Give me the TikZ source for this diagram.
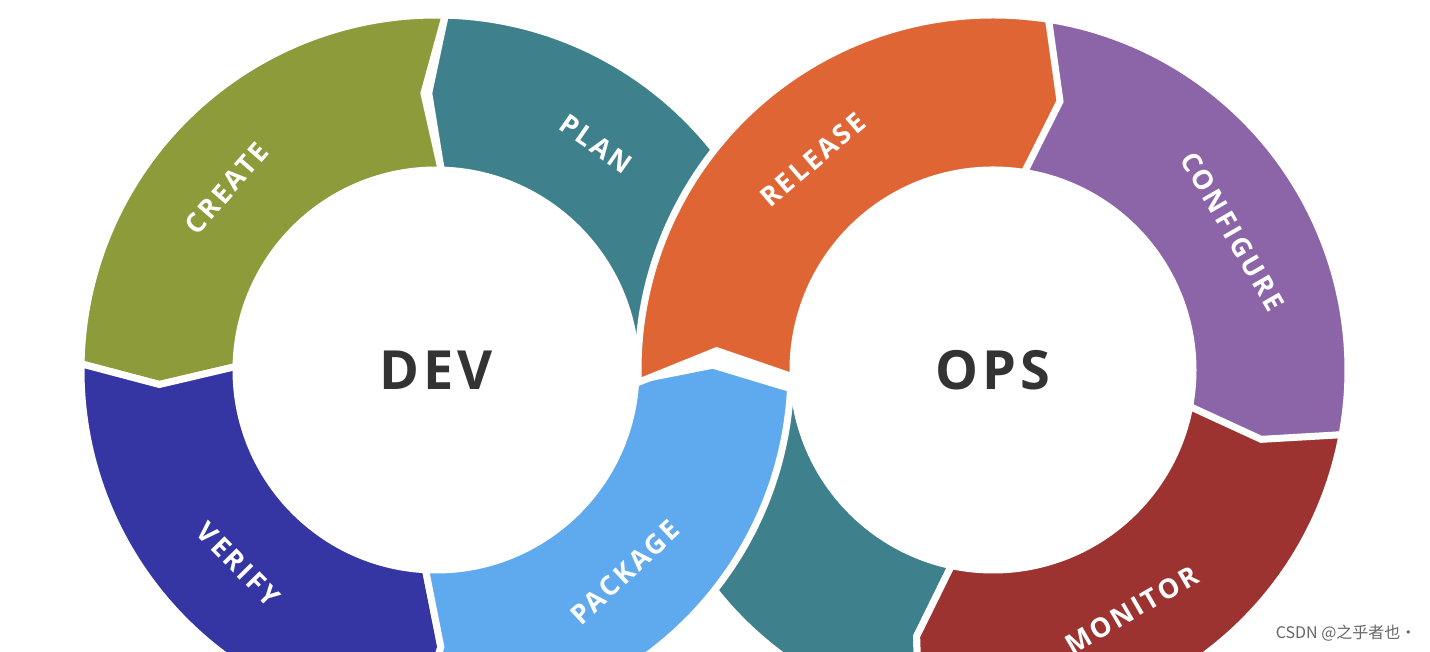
\documentclass[tikz,border=0pt]{standalone}
\usepackage{fontspec}
\setmainfont{Open Sans}
\newfontfamily\cjk{Noto Sans CJK SC}
\definecolor{colive}{HTML}{8E9B3A}
\definecolor{cteal}{HTML}{3E818C}
\definecolor{cnavy}{HTML}{3535A3}
\definecolor{clblue}{HTML}{5FA9EE}
\definecolor{corange}{HTML}{E06534}
\definecolor{cpurple}{HTML}{8C65A8}
\definecolor{cdred}{HTML}{9C3330}
\newcommand\seg[7]{%
 \fill[#7,draw=white,line width=7pt,line join=miter]
  (#1,#2)++(#3:355) arc[start angle=#3,end angle=#4,radius=355]
  -- ($(#1,#2)+({#4+#6*#5}:277)$) -- ($(#1,#2)+(#4:200)$)
  arc[start angle=#4,end angle=#3,radius=200]
  -- ($(#1,#2)+({#3+#6*#5}:277)$) -- cycle;}
\usetikzlibrary{calc}
\tikzset{lab/.style={text=white,font=\bfseries\fontsize{27}{27}\selectfont\addfontfeatures{LetterSpace=10}},
 big/.style={text=black!80,font=\bfseries\fontsize{54}{54}\selectfont\addfontfeatures{LetterSpace=8}}}
\begin{document}
\begin{tikzpicture}[x=1pt,y=1pt]
\useasboundingbox[fill=white] (0,0) rectangle (1430,652);
\coordinate (L) at (436,282);
\coordinate (R) at (993,282);
\seg{993}{282}{-102}{-172}{4}{-1}{cteal}
\seg{436}{282}{0}{88.5}{3}{1}{cteal}
\seg{436}{282}{88.5}{179}{4}{1}{colive}
\seg{436}{282}{179}{267}{4}{1}{cnavy}
\seg{436}{282}{267}{357}{4}{1}{clblue}
\seg{993}{282}{182}{81}{6}{-1}{corange}
\seg{993}{282}{81}{-10.5}{5}{-1}{cpurple}
\seg{993}{282}{-10.5}{-102}{4}{-1}{cdred}
\node[lab,rotate=49] (create) at ($(L)+(139:277)$) {CREATE};
\node[lab,rotate=-35] (plan) at ($(L)+(54.7:277)$) {PLAN};
\node[lab,rotate=-45.5] (verify) at ($(L)+(224.5:277)$) {VERIFY};
\node[lab,rotate=43] (package) at ($(L)+(313:277)$) {PACKAGE};
\node[lab,rotate=40.6] (release) at ($(R)+(130.6:277)$) {RELEASE};
\node[lab,rotate=-60] (configure) at ($(R)+(30:277)$) {CONFIGURE};
\node[lab,rotate=30] (monitor) at ($(R)+(300:277)$) {MONITOR};
\node[big] (dev) at (L) {DEV};
\node[big] (ops) at (R) {OPS};
\node[text=black!60,font=\cjk\fontsize{16}{16}\selectfont,anchor=east] (wm) at (1420,19) {CSDN @之乎者也·};
\end{tikzpicture}
\end{document}
